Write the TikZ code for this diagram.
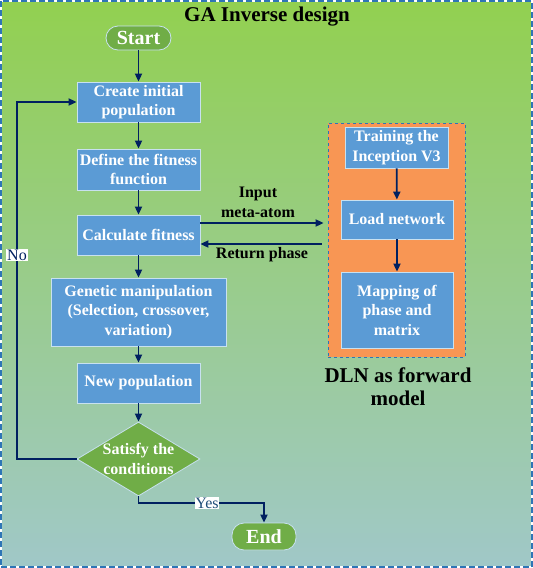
\documentclass[tikz,border=0pt]{standalone}
\usepackage{fontspec}
\setmainfont{Liberation Serif}
\usetikzlibrary{shapes.geometric,arrows.meta}
\definecolor{bgtop}{RGB}{146,208,80}
\definecolor{bgbot}{RGB}{160,200,200}
\definecolor{frameblue}{RGB}{46,117,182}
\definecolor{boxblue}{RGB}{91,155,213}
\definecolor{boxedge}{RGB}{200,225,240}
\definecolor{pillgreen}{RGB}{112,173,71}
\definecolor{orangebox}{RGB}{248,150,84}
\definecolor{navy}{RGB}{0,32,96}
\definecolor{yesblue}{RGB}{31,78,121}
\tikzset{
  blk/.style={rectangle, fill=boxblue, draw=boxedge, line width=0.8pt, text=white,
    font=\bfseries\fontsize{16}{19.5}\selectfont, align=center, inner sep=0pt},
  pill/.style={rectangle, rounded corners=12pt, fill=pillgreen, draw=boxedge, line width=0.8pt,
    text=white, font=\bfseries\fontsize{20}{22}\selectfont, inner sep=0pt},
  decis/.style={diamond, aspect=1.66, fill=pillgreen, draw=boxedge, line width=0.8pt, text=white,
    font=\bfseries\fontsize{16}{19.5}\selectfont, align=center, inner sep=0pt},
  arr/.style={draw=navy, line width=1.8pt, -{Triangle[length=8pt,width=7pt]}},
  lbl/.style={font=\bfseries\fontsize{16}{20}\selectfont, align=center, inner sep=0pt},
  tag/.style={fill=white, inner sep=0.8pt, font=\fontsize{16}{18}\selectfont},
}
\begin{document}
\begin{tikzpicture}[x=1pt,y=-1pt]
\useasboundingbox (0,0) rectangle (533,568);
\shade[top color=bgtop, bottom color=bgbot] (0,0) rectangle (533,568);
\draw[white, line width=1.6pt] (0.8,0.8) rectangle (532.2,567.2);
\draw[frameblue, line width=1.6pt, dash pattern=on 6pt off 3pt] (0.8,0.8) rectangle (532.2,567.2);

\node[font=\bfseries\fontsize{21}{24}\selectfont] (title) at (267,17) {GA Inverse design};

\node[pill, minimum width=65pt, minimum height=24pt] (start) at (138.5,38) {Start};
\node[blk, minimum width=123pt, minimum height=40pt] (create) at (138.5,102) {Create initial\\population};
\node[blk, minimum width=123pt, minimum height=41pt] (define) at (138.5,169.5) {Define the fitness\\function};
\node[blk, minimum width=123pt, minimum height=40pt] (calc) at (138.5,235) {Calculate fitness};
\node[blk, minimum width=175pt, minimum height=68pt] (gen) at (138.5,312) {Genetic manipulation\\(Selection, crossover,\\variation)};
\node[blk, minimum width=123pt, minimum height=40pt] (newp) at (138.5,383) {New population};
\node[decis, minimum width=123pt, minimum height=74pt] (cond) at (138.5,459) {Satisfy the\\conditions};
\node[pill, minimum width=64pt, minimum height=27pt] (end) at (264,536.5) {End};

\node[rectangle, fill=orangebox, draw=frameblue, line width=0.8pt, dashed,
  minimum width=137pt, minimum height=234pt, inner sep=0pt] (dln) at (396.5,240) {};
\node[blk, minimum width=103pt, minimum height=41pt] (train) at (396.5,147.5) {Training the\\Inception V3};
\node[blk, minimum width=112pt, minimum height=39pt] (load) at (397,219.5) {Load network};
\node[blk, minimum width=112pt, minimum height=76pt] (map) at (397,310) {Mapping of\\phase and\\matrix};
\node[font=\bfseries\fontsize{21}{23}\selectfont, align=center] (dlnlbl) at (398,386.5) {DLN as forward\\model};

\draw[arr] (start) -- (create);
\draw[arr] (create) -- (define);
\draw[arr] (define) -- (calc);
\draw[arr] (calc) -- (gen);
\draw[arr] (gen) -- (newp);
\draw[arr] (newp) -- (cond);
\draw[arr] (train) -- (load);
\draw[arr] (load) -- (map);

\draw[arr] ([yshift=12pt]calc.east) -- ([yshift=17pt,xshift=-4pt]dln.west);
\draw[arr] ([yshift=-4pt,xshift=-6pt]dln.west) -- ([yshift=-9pt]calc.east);
\node[lbl] (inlbl) at (258,202) {Input\\meta-atom};
\node[lbl] (retlbl) at (262,255) {Return phase};

\coordinate (nb) at (17,459);
\coordinate (nt) at (17,102);
\draw[arr] (cond.west) -- (nb) -- (nt) -- (create.west);
\node[tag, text=navy] (no) at (17,255) {No};

\coordinate (yb) at (138.5,503);
\draw[arr] (cond.south) -- (yb) -| (end.north);
\node[tag, text=yesblue] (yes) at (207,503) {Yes};
\end{tikzpicture}
\end{document}
